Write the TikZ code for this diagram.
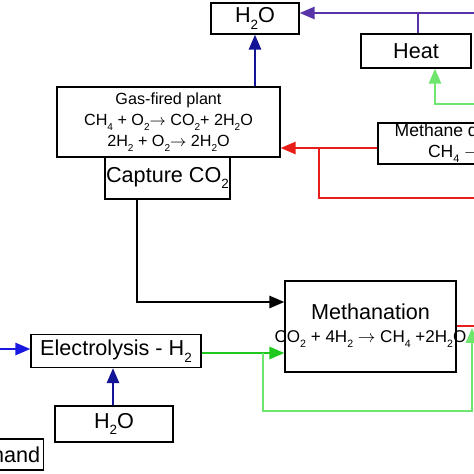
\documentclass[tikz,border=0pt]{standalone}
\usepackage{fontspec}
\setmainfont{Liberation Sans}
\usetikzlibrary{arrows.meta}
\newcommand{\chemsub}[1]{\raisebox{-0.6ex}{\scalebox{0.62}{#1}}}
\definecolor{purpleline}{RGB}{88,52,168}
\definecolor{navyline}{RGB}{20,20,150}
\definecolor{blueline}{RGB}{25,25,225}
\definecolor{redline}{RGB}{232,30,24}
\definecolor{greenline}{RGB}{30,200,30}
\definecolor{lightgreen}{RGB}{110,230,110}
\begin{document}
\begin{tikzpicture}[x=0.02cm,y=-0.02cm,
    box/.style={draw=black,line width=0.8pt,inner sep=0pt,align=center,fill=white},
    big/.style={font=\fontsize{12.3}{14}\selectfont},
    small/.style={font=\fontsize{9.2}{12}\selectfont},
    link/.style={line width=1.1pt,-{Triangle[length=8.5pt,width=7pt]}},
    plain/.style={line width=1.1pt}]
    \clip (0,0) rectangle (474,474);
    \fill[white] (0,0) rectangle (474,474);
    % boxes
    \node[box,big,minimum width=88*0.02cm,minimum height=31*0.02cm] (h2otop) at (255,18.5) {H\chemsub{2}O};
    \node[box,big,minimum width=110*0.02cm,minimum height=34*0.02cm] (heat) at (416,51) {Heat};
    \node[box,small,minimum width=223*0.02cm,minimum height=70*0.02cm] (plant) at (168.5,122)
        {Gas-fired plant\\CH\chemsub{4} + O\chemsub{2}$\rightarrow$ CO\chemsub{2}+ 2H\chemsub{2}O\\2H\chemsub{2} + O\chemsub{2}$\rightarrow$ 2H\chemsub{2}O};
    \node[box,big,minimum width=125*0.02cm,minimum height=42*0.02cm] (capture) at (167.5,178) {Capture CO\chemsub{2}};
    \node[box,font=\fontsize{10}{11.5}\selectfont,minimum width=220*0.02cm,minimum height=41*0.02cm] (methdec) at (488,143.5)
        {Methane decomposition\\CH\chemsub{4} $\rightarrow$ C + 2H\chemsub{2}};
    \node[box,minimum width=171*0.02cm,minimum height=91*0.02cm] (methan) at (370.5,326.5) {};
    \node[align=center,inner sep=0pt] (methantext) at (370.5,326)
        {{\fontsize{12.3}{14}\selectfont Methanation}\\[1pt]{\fontsize{9.7}{12}\selectfont CO\chemsub{2} + 4H\chemsub{2} $\rightarrow$ CH\chemsub{4} +2H\chemsub{2}O}};
    \node[box,big,minimum width=170*0.02cm,minimum height=33*0.02cm] (electro) at (116,351) {Electrolysis - H\chemsub{2}};
    \node[box,big,minimum width=118*0.02cm,minimum height=36*0.02cm] (h2obot) at (114,424) {H\chemsub{2}O};
    \node[box,big,minimum width=88*0.02cm,minimum height=31*0.02cm,anchor=east] (demand) at (44,454.5) {Demand};
    % free ends and bends
    \coordinate (purpleend) at (474,13);
    \coordinate (heatgreen) at (474,104);
    \coordinate (redend) at (474,198);
    \coordinate (redsplit) at (319,148);
    \coordinate (blackbend) at (137,302);
    \coordinate (methred) at (474,326);
    \coordinate (greensplit) at (263,353);
    \coordinate (greenlow) at (472,411);
    \coordinate (greentip) at (472,328);
    \coordinate (bluestart) at (0,349);
    % connectors
    \draw[link,purpleline] (purpleend) -- (h2otop.east |- purpleend);
    \draw[plain,purpleline] (heat.north -| 418,0) -- (418,13);
    \draw[link,lightgreen] (heatgreen) -- (435,104) -- (heat.south -| 435,0);
    \draw[link,navyline] (plant.north -| h2otop.south) -- (h2otop.south);
    \draw[link,redline] (methdec.west |- redsplit) -- (plant.east |- redsplit);
    \draw[plain,redline] (redsplit) -- (redsplit |- redend) -- (redend);
    \draw[link,black] (capture.south -| blackbend) -- (blackbend) -- (methan.west |- blackbend);
    \draw[plain,redline] (methan.east |- methred) -- (methred);
    \draw[link,greenline] (electro.east |- greensplit) -- (methan.west |- greensplit);
    \draw[link,lightgreen] (greensplit) -- (greensplit |- greenlow) -- (greenlow) -- (greentip);
    \draw[link,blueline] (bluestart) -- (electro.west |- bluestart);
    \draw[link,navyline] (h2obot.north -| 113,0) -- (electro.south -| 113,0);
\end{tikzpicture}
\end{document}
